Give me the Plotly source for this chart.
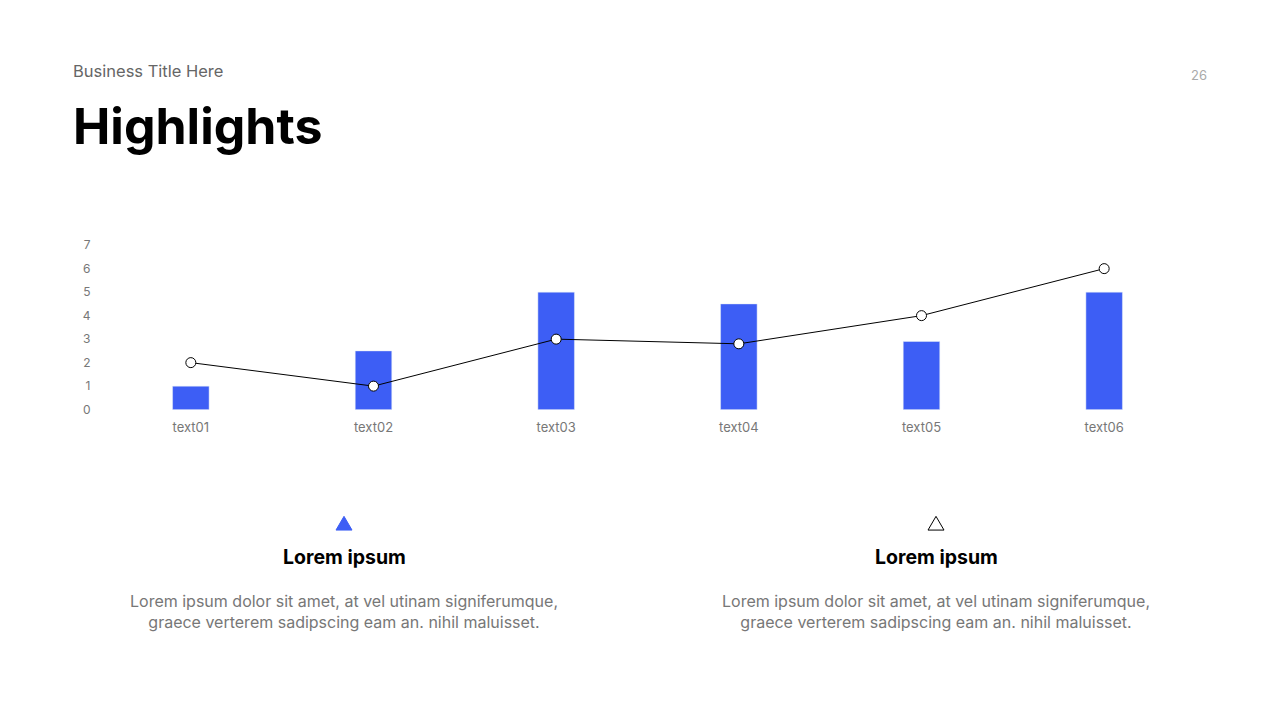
import plotly.graph_objects as go

categories = ["text01", "text02", "text03", "text04", "text05", "text06"]
bar_values = [1.0, 2.5, 5.0, 4.5, 2.9, 5.0]
line_values = [2.0, 1.0, 3.0, 2.8, 4.0, 6.0]
y_ticks = [0, 1, 2, 3, 4, 5, 6, 7]

BLUE = "#3d5ef5"
FONT = "Inter"

fig = go.Figure()
fig.add_trace(go.Bar(x=categories, y=bar_values, marker_color=BLUE, width=0.2))
fig.add_trace(go.Scatter(
    x=categories, y=line_values, mode="lines+markers",
    line=dict(color="black", width=1),
    marker=dict(size=10, color="white", line=dict(color="black", width=1)),
))

W, H = 1280, 720
DX, DY = 8, 7  # page offset compensation
fig.update_layout(
    width=W, height=H, margin=dict(l=0, r=0, t=0, b=0),
    paper_bgcolor="white", plot_bgcolor="white", showlegend=False,
    font=dict(family=FONT, color="#777"),
    xaxis=dict(domain=[(99.5 - DX) / W, (1195.5 - DX) / W], showgrid=False, showline=False,
               tickfont=dict(size=13, color="#777"), ticks="", ticklen=0,
               ticklabelstandoff=8),
    yaxis=dict(domain=[(H - 409 + DY) / H, (H - 244 + DY + 3) / H], range=[0, 7],
               tickvals=y_ticks, showgrid=False, zeroline=False,
               tickfont=dict(size=12, color="#777"), ticklabelstandoff=8),
)

def txt(x, y, s, size, color, anchor="left", bold=False):
    fig.add_annotation(x=x / W, y=1 - y / H, xref="paper", yref="paper",
                       text=f"<b>{s}</b>" if bold else s, showarrow=False,
                       xanchor=anchor, yanchor="middle",
                       font=dict(family=FONT, size=size, color=color))

txt(63, 56, "Business Title Here", 16.5, "#666")
txt(63, 112, "Highlights", 50, "black", bold=True)
txt(1201, 60, "26", 13, "#aaa", anchor="right")

for cx, filled in [(336, True), (928, False)]:
    fig.add_shape(type="path", xref="paper", yref="paper",
                  path=f"M {(cx-8)/W} {1-525/H} L {(cx+8)/W} {1-525/H} L {cx/W} {1-511/H} Z",
                  fillcolor=BLUE if filled else "white",
                  line=dict(color=BLUE if filled else "black", width=1))
    txt(cx, 552, "Lorem ipsum", 19.5, "black", anchor="center", bold=True)
    txt(cx, 608, "Lorem ipsum dolor sit amet, at vel utinam signiferumque,<br>"
        "graece verterem sadipscing eam an. nihil maluisset.", 16, "#777", anchor="center")

fig.write_html("out.html")
